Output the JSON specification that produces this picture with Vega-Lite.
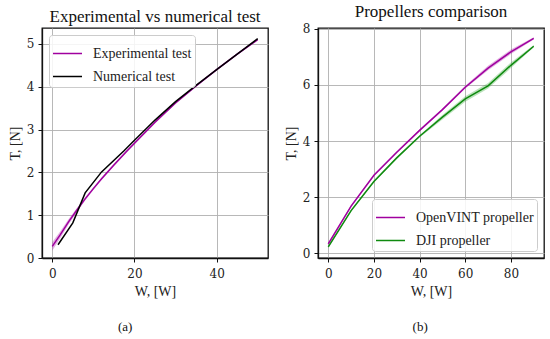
{
  "$schema": "https://vega.github.io/schema/vega-lite/v6.json",
  "padding": {"left": 7, "top": 2, "right": 2, "bottom": 0},
  "background": "white",
  "config": {
    "view": {"stroke": "#111111", "strokeWidth": 1.3},
    "axis": {
      "domainColor": "#111111", "domainWidth": 1.3,
      "tickColor": "#111111", "tickSize": 4,
      "gridColor": "#b0b0b0", "gridWidth": 0.9,
      "labelFont": "DejaVu Serif", "labelFontSize": 12, "labelColor": "#222222",
      "titleFont": "Liberation Serif", "titleFontSize": 14, "titleFontWeight": "normal", "titleColor": "#222222",
      "labelPadding": 4
    },
    "axisX": {"labelPadding": 6, "titlePadding": 5},
    "title": {"font": "Liberation Serif", "fontSize": 17, "fontWeight": "normal", "color": "#111111", "anchor": "middle"},
    "legend": {
      "labelFont": "Liberation Serif", "labelFontSize": 14, "labelColor": "#222222",
      "fillColor": "rgba(255,255,255,0.85)", "strokeColor": "#cccccc", "cornerRadius": 3,
      "padding": 3, "symbolType": "stroke", "symbolSize": 841, "symbolStrokeWidth": 1.5,
      "rowPadding": -10, "labelOffset": 10, "offset": 7
    },
    "concat": {"spacing": 14}
  },
  "datasets": {
    "a": [
      {"W": 0, "T": 0.27, "lo": 0.17, "hi": 0.37, "s": "Experimental test"},
      {"W": 2, "T": 0.55, "lo": 0.47, "hi": 0.63, "s": "Experimental test"},
      {"W": 4, "T": 0.85, "lo": 0.79, "hi": 0.91, "s": "Experimental test"},
      {"W": 6, "T": 1.12, "lo": 1.07, "hi": 1.17, "s": "Experimental test"},
      {"W": 8, "T": 1.38, "lo": 1.34, "hi": 1.42, "s": "Experimental test"},
      {"W": 10, "T": 1.62, "lo": 1.59, "hi": 1.65, "s": "Experimental test"},
      {"W": 12, "T": 1.85, "lo": 1.82, "hi": 1.88, "s": "Experimental test"},
      {"W": 15, "T": 2.17, "lo": 2.14, "hi": 2.2, "s": "Experimental test"},
      {"W": 18, "T": 2.48, "lo": 2.45, "hi": 2.51, "s": "Experimental test"},
      {"W": 20, "T": 2.68, "lo": 2.65, "hi": 2.71, "s": "Experimental test"},
      {"W": 25, "T": 3.17, "lo": 3.14, "hi": 3.2, "s": "Experimental test"},
      {"W": 30, "T": 3.62, "lo": 3.6, "hi": 3.64, "s": "Experimental test"},
      {"W": 35, "T": 4.02, "lo": 4.0, "hi": 4.04, "s": "Experimental test"},
      {"W": 40, "T": 4.4, "lo": 4.38, "hi": 4.42, "s": "Experimental test"},
      {"W": 45, "T": 4.76, "lo": 4.74, "hi": 4.78, "s": "Experimental test"},
      {"W": 50, "T": 5.1, "lo": 5.08, "hi": 5.12, "s": "Experimental test"},
      {"W": 1.4, "T": 0.31, "s": "Numerical test"},
      {"W": 5, "T": 0.82, "s": "Numerical test"},
      {"W": 8, "T": 1.52, "s": "Numerical test"},
      {"W": 12, "T": 2.01, "s": "Numerical test"},
      {"W": 17.4, "T": 2.5, "s": "Numerical test"},
      {"W": 20, "T": 2.75, "s": "Numerical test"},
      {"W": 25, "T": 3.22, "s": "Numerical test"},
      {"W": 30, "T": 3.65, "s": "Numerical test"},
      {"W": 35, "T": 4.03, "s": "Numerical test"},
      {"W": 40, "T": 4.4, "s": "Numerical test"},
      {"W": 45, "T": 4.76, "s": "Numerical test"},
      {"W": 50, "T": 5.12, "s": "Numerical test"}
    ],
    "b": [
      {"W": 0, "T": 0.33, "lo": 0.27, "hi": 0.39, "s": "OpenVINT propeller"},
      {"W": 10, "T": 1.68, "lo": 1.64, "hi": 1.72, "s": "OpenVINT propeller"},
      {"W": 20, "T": 2.78, "lo": 2.74, "hi": 2.82, "s": "OpenVINT propeller"},
      {"W": 30, "T": 3.6, "lo": 3.56, "hi": 3.64, "s": "OpenVINT propeller"},
      {"W": 40, "T": 4.38, "lo": 4.34, "hi": 4.42, "s": "OpenVINT propeller"},
      {"W": 50, "T": 5.12, "lo": 5.08, "hi": 5.16, "s": "OpenVINT propeller"},
      {"W": 60, "T": 5.92, "lo": 5.87, "hi": 5.97, "s": "OpenVINT propeller"},
      {"W": 70, "T": 6.6, "lo": 6.52, "hi": 6.68, "s": "OpenVINT propeller"},
      {"W": 80, "T": 7.18, "lo": 7.1, "hi": 7.26, "s": "OpenVINT propeller"},
      {"W": 90, "T": 7.66, "lo": 7.62, "hi": 7.7, "s": "OpenVINT propeller"},
      {"W": 0, "T": 0.23, "lo": 0.19, "hi": 0.27, "s": "DJI propeller"},
      {"W": 10, "T": 1.52, "lo": 1.48, "hi": 1.56, "s": "DJI propeller"},
      {"W": 20, "T": 2.56, "lo": 2.52, "hi": 2.6, "s": "DJI propeller"},
      {"W": 30, "T": 3.4, "lo": 3.36, "hi": 3.44, "s": "DJI propeller"},
      {"W": 40, "T": 4.17, "lo": 4.13, "hi": 4.21, "s": "DJI propeller"},
      {"W": 50, "T": 4.85, "lo": 4.77, "hi": 4.93, "s": "DJI propeller"},
      {"W": 60, "T": 5.5, "lo": 5.4, "hi": 5.6, "s": "DJI propeller"},
      {"W": 70, "T": 5.97, "lo": 5.87, "hi": 6.07, "s": "DJI propeller"},
      {"W": 80, "T": 6.7, "lo": 6.6, "hi": 6.8, "s": "DJI propeller"},
      {"W": 90, "T": 7.38, "lo": 7.34, "hi": 7.42, "s": "DJI propeller"}
    ]
  },
  "resolve": {"scale": {"color": "independent"}, "legend": {"color": "independent"}},
  "hconcat": [
    {
      "title": {"text": "(a)", "orient": "bottom", "fontSize": 13, "frame": "bounds", "dx": -13, "offset": 22},
      "resolve": {"scale": {"color": "independent"}, "legend": {"color": "independent"}},
      "vconcat": [
        {
          "title": {"text": "Experimental vs numerical test", "offset": 2, "frame": "group"},
          "width": 226, "height": 230,
          "data": {"name": "a"},
          "layer": [
            {
              "mark": {"type": "area", "opacity": 0.3, "color": "#a0009f"},
              "transform": [{"filter": "datum.s == 'Experimental test'"}],
              "encoding": {
                "x": {"field": "W", "type": "quantitative"},
                "y": {"field": "lo", "type": "quantitative"},
                "y2": {"field": "hi"}
              }
            },
            {
              "mark": {"type": "line", "strokeWidth": 1.5},
              "encoding": {
                "x": {"field": "W", "type": "quantitative", "scale": {"domain": [-2.5, 52.5], "nice": false, "zero": false},
                  "axis": {"values": [0, 20, 40], "title": "W, [W]"}},
                "y": {"field": "T", "type": "quantitative", "scale": {"domain": [0, 5.37], "nice": false},
                  "axis": {"values": [0, 1, 2, 3, 4, 5], "title": "T, [N]"}},
                "color": {"field": "s", "type": "nominal",
                  "scale": {"domain": ["Experimental test", "Numerical test"], "range": ["#a0009f", "#000000"]},
                  "legend": {"orient": "top-left", "title": null}}
              }
            }
          ]
        }
      ]
    },
    {
      "title": {"text": "(b)", "orient": "bottom", "fontSize": 13, "frame": "bounds", "dx": 6, "offset": 22},
      "resolve": {"scale": {"color": "independent"}, "legend": {"color": "independent"}},
      "vconcat": [
        {
          "title": {"text": "Propellers comparison", "offset": 2, "frame": "group"},
          "width": 226, "height": 230,
          "data": {"name": "b"},
          "layer": [
            {
              "mark": {"type": "area", "opacity": 0.3, "color": "#a0009f"},
              "transform": [{"filter": "datum.s == 'OpenVINT propeller'"}],
              "encoding": {
                "x": {"field": "W", "type": "quantitative"},
                "y": {"field": "lo", "type": "quantitative"},
                "y2": {"field": "hi"}
              }
            },
            {
              "mark": {"type": "area", "opacity": 0.3, "color": "#1fa01f"},
              "transform": [{"filter": "datum.s == 'DJI propeller'"}],
              "encoding": {
                "x": {"field": "W", "type": "quantitative"},
                "y": {"field": "lo", "type": "quantitative"},
                "y2": {"field": "hi"}
              }
            },
            {
              "mark": {"type": "line", "strokeWidth": 1.5},
              "encoding": {
                "x": {"field": "W", "type": "quantitative", "scale": {"domain": [-4.5, 94.5], "nice": false, "zero": false},
                  "axis": {"values": [0, 20, 40, 60, 80], "title": "W, [W]"}},
                "y": {"field": "T", "type": "quantitative", "scale": {"domain": [-0.17, 8.03], "nice": false, "zero": false},
                  "axis": {"values": [0, 2, 4, 6, 8], "title": "T, [N]"}},
                "color": {"field": "s", "type": "nominal",
                  "scale": {"domain": ["OpenVINT propeller", "DJI propeller"], "range": ["#a0009f", "#0f8a0f"]},
                  "legend": {"orient": "bottom-right", "title": null}}
              }
            }
          ]
        }
      ]
    }
  ]
}
